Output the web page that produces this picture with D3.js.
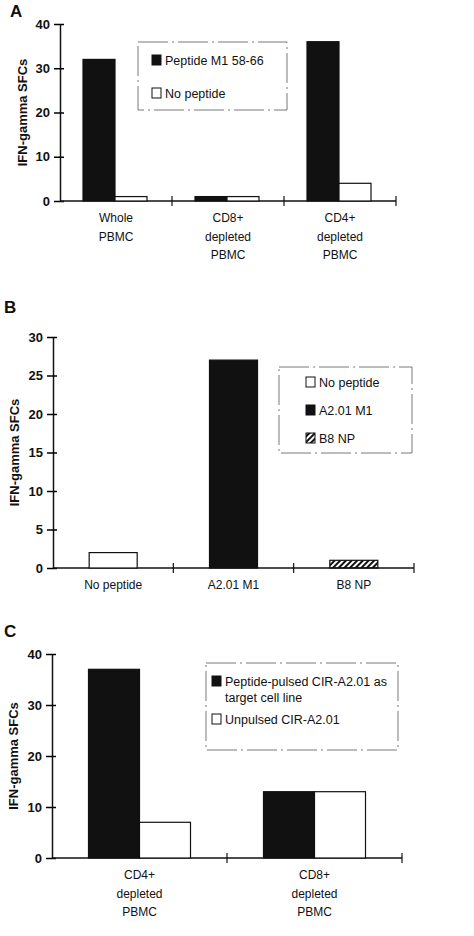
<!DOCTYPE html>
<html><head><meta charset="utf-8">
<script src="https://cdn.jsdelivr.net/npm/d3@7"></script>
<style>
body{margin:0;background:#fff}
text{font-family:"Liberation Sans",Arial,sans-serif;fill:#111}
</style></head>
<body><svg id="c" width="474" height="936"></svg>
<script>
// Panel A
const catsA = [["Whole","PBMC"],["CD8+","depleted","PBMC"],["CD4+","depleted","PBMC"]];
const seriesA = ["Peptide M1 58-66","No peptide"];
const valuesA = [[32,1],[1,1],[36,4]];
const ticksA = [0,10,20,30,40];
// Panel B
const catsB = [["No peptide"],["A2.01  M1"],["B8 NP"]];
const seriesB = ["No peptide","A2.01  M1","B8 NP"];
const valuesB = [2,27,1];
const ticksB = [0,5,10,15,20,25,30];
// Panel C
const catsC = [["CD4+","depleted","PBMC"],["CD8+","depleted","PBMC"]];
const seriesC = [["Peptide-pulsed CIR-A2.01 as","target cell line"],["Unpulsed CIR-A2.01"]];
const valuesC = [[37,7],[13,13]];
const ticksC = [0,10,20,30,40];

const svg = d3.select("#c");
const defs = svg.append("defs");
defs.append("pattern").attr("id","hatch").attr("width",4).attr("height",4)
  .attr("patternUnits","userSpaceOnUse").attr("patternTransform","rotate(45)")
  .append("rect").attr("width",2).attr("height",4).attr("fill","#111");
const fills = {black:"#111", white:"#fff", hatch:"url(#hatch)"};

function panel(o){
  const g = svg.append("g");
  g.append("text").attr("x",o.lx).attr("y",o.ly).attr("font-size",17).attr("font-weight","bold").text(o.label);
  const y = d3.scaleLinear().domain([0,o.max]).range([o.y0,o.y1]);
  const x = d3.scaleBand().domain(o.cats.map((c,i)=>i)).range([o.x0,o.x1]);
  g.append("g").attr("transform",`translate(${o.x0},0)`)
    .call(d3.axisLeft(y).tickValues(o.ticks).tickSize(6).tickPadding(4).tickSizeOuter(0))
    .call(a=>{a.select(".domain").attr("stroke","#111").attr("stroke-width",1.5);
      a.selectAll(".tick line").attr("x2",4).attr("x1",-6).attr("stroke-width",1.5);
      a.selectAll("text").attr("font-size",13).attr("font-weight","bold").attr("font-family","Liberation Sans");});
  // x axis
  g.append("line").attr("x1",o.x0).attr("x2",o.x1).attr("y1",o.y0).attr("y2",o.y0).attr("stroke","#111").attr("stroke-width",1.5);
  o.cats.forEach((c,i)=>{
    const xt = x(i)+x.bandwidth();
    g.append("line").attr("x1",xt).attr("x2",xt).attr("y1",o.y0-5).attr("y2",o.y0+5).attr("stroke","#111").attr("stroke-width",1.2);
    c.forEach((l,j)=>g.append("text").attr("x",x(i)+x.bandwidth()/2).attr("y",o.y0+21+j*18.5)
      .attr("text-anchor","middle").attr("font-size",12).text(l));
  });
  g.append("text").attr("transform",`translate(${o.ylx},${(o.y0+o.y1)/2}) rotate(-90)`)
    .attr("text-anchor","middle").attr("font-size",13).attr("font-weight","bold").text("IFN-gamma SFCs");
  // bars
  o.bars.forEach(b=>{
    const cx = x(b.cat)+x.bandwidth()/2;
    g.append("rect").attr("x",cx+b.off).attr("width",o.bw).attr("y",y(b.v)).attr("height",y(0)-y(b.v))
      .attr("fill",fills[b.f]).attr("stroke","#111").attr("stroke-width",1.2);
  });
  // legend
  const L = o.leg;
  g.append("rect").attr("x",L.x).attr("y",L.y).attr("width",L.w).attr("height",L.h)
    .attr("fill","#fff").attr("stroke","#555").attr("stroke-width",0.8).attr("stroke-dasharray","30,4,2,4");
  L.items.forEach((it,i)=>{
    const yy = L.y+L.top+i*L.gap + (it.extra||0);
    g.append("rect").attr("x",L.x+L.sx).attr("y",yy-5).attr("width",9).attr("height",10)
      .attr("fill",fills[it.f]).attr("stroke","#111").attr("stroke-width",1);
    [].concat(it.t).forEach((t,j)=>g.append("text").attr("x",L.x+L.sx+13).attr("y",yy+5+j*16)
      .attr("font-size",12.5).text(t));
  });
}

panel({label:"A",lx:10,ly:17,x0:60,x1:396,y0:201,y1:24,max:40,ticks:ticksA,cats:catsA,ylx:27,bw:32,
  bars:valuesA.flatMap((v,i)=>[{cat:i,v:v[0],off:-33,f:"black"},{cat:i,v:v[1],off:-1,f:"white"}]),
  leg:{x:138,y:42,w:149,h:68,sx:14,top:18,gap:33,
    items:[{f:"black",t:seriesA[0]},{f:"white",t:seriesA[1]}]}});

panel({label:"B",lx:4,ly:313,x0:53,x1:414,y0:568,y1:337,max:30,ticks:ticksB,cats:catsB,ylx:19,bw:48,
  bars:valuesB.map((v,i)=>({cat:i,v:v,off:-24,f:["white","black","hatch"][i]})),
  leg:{x:279,y:367,w:133,h:86,sx:27,top:15,gap:28,
    items:[{f:"white",t:seriesB[0]},{f:"black",t:seriesB[1]},{f:"hatch",t:seriesB[2]}]}});

panel({label:"C",lx:4,ly:637,x0:52,x1:402,y0:858,y1:654,max:40,ticks:ticksC,cats:catsC,ylx:18,bw:51,
  bars:valuesC.flatMap((v,i)=>[{cat:i,v:v[0],off:-51,f:"black"},{cat:i,v:v[1],off:0,f:"white"}]),
  leg:{x:206,y:663,w:192,h:87,sx:6,top:18,gap:38,
    items:[{f:"black",t:seriesC[0]},{f:"white",t:seriesC[1]}]}});
</script></body></html>
